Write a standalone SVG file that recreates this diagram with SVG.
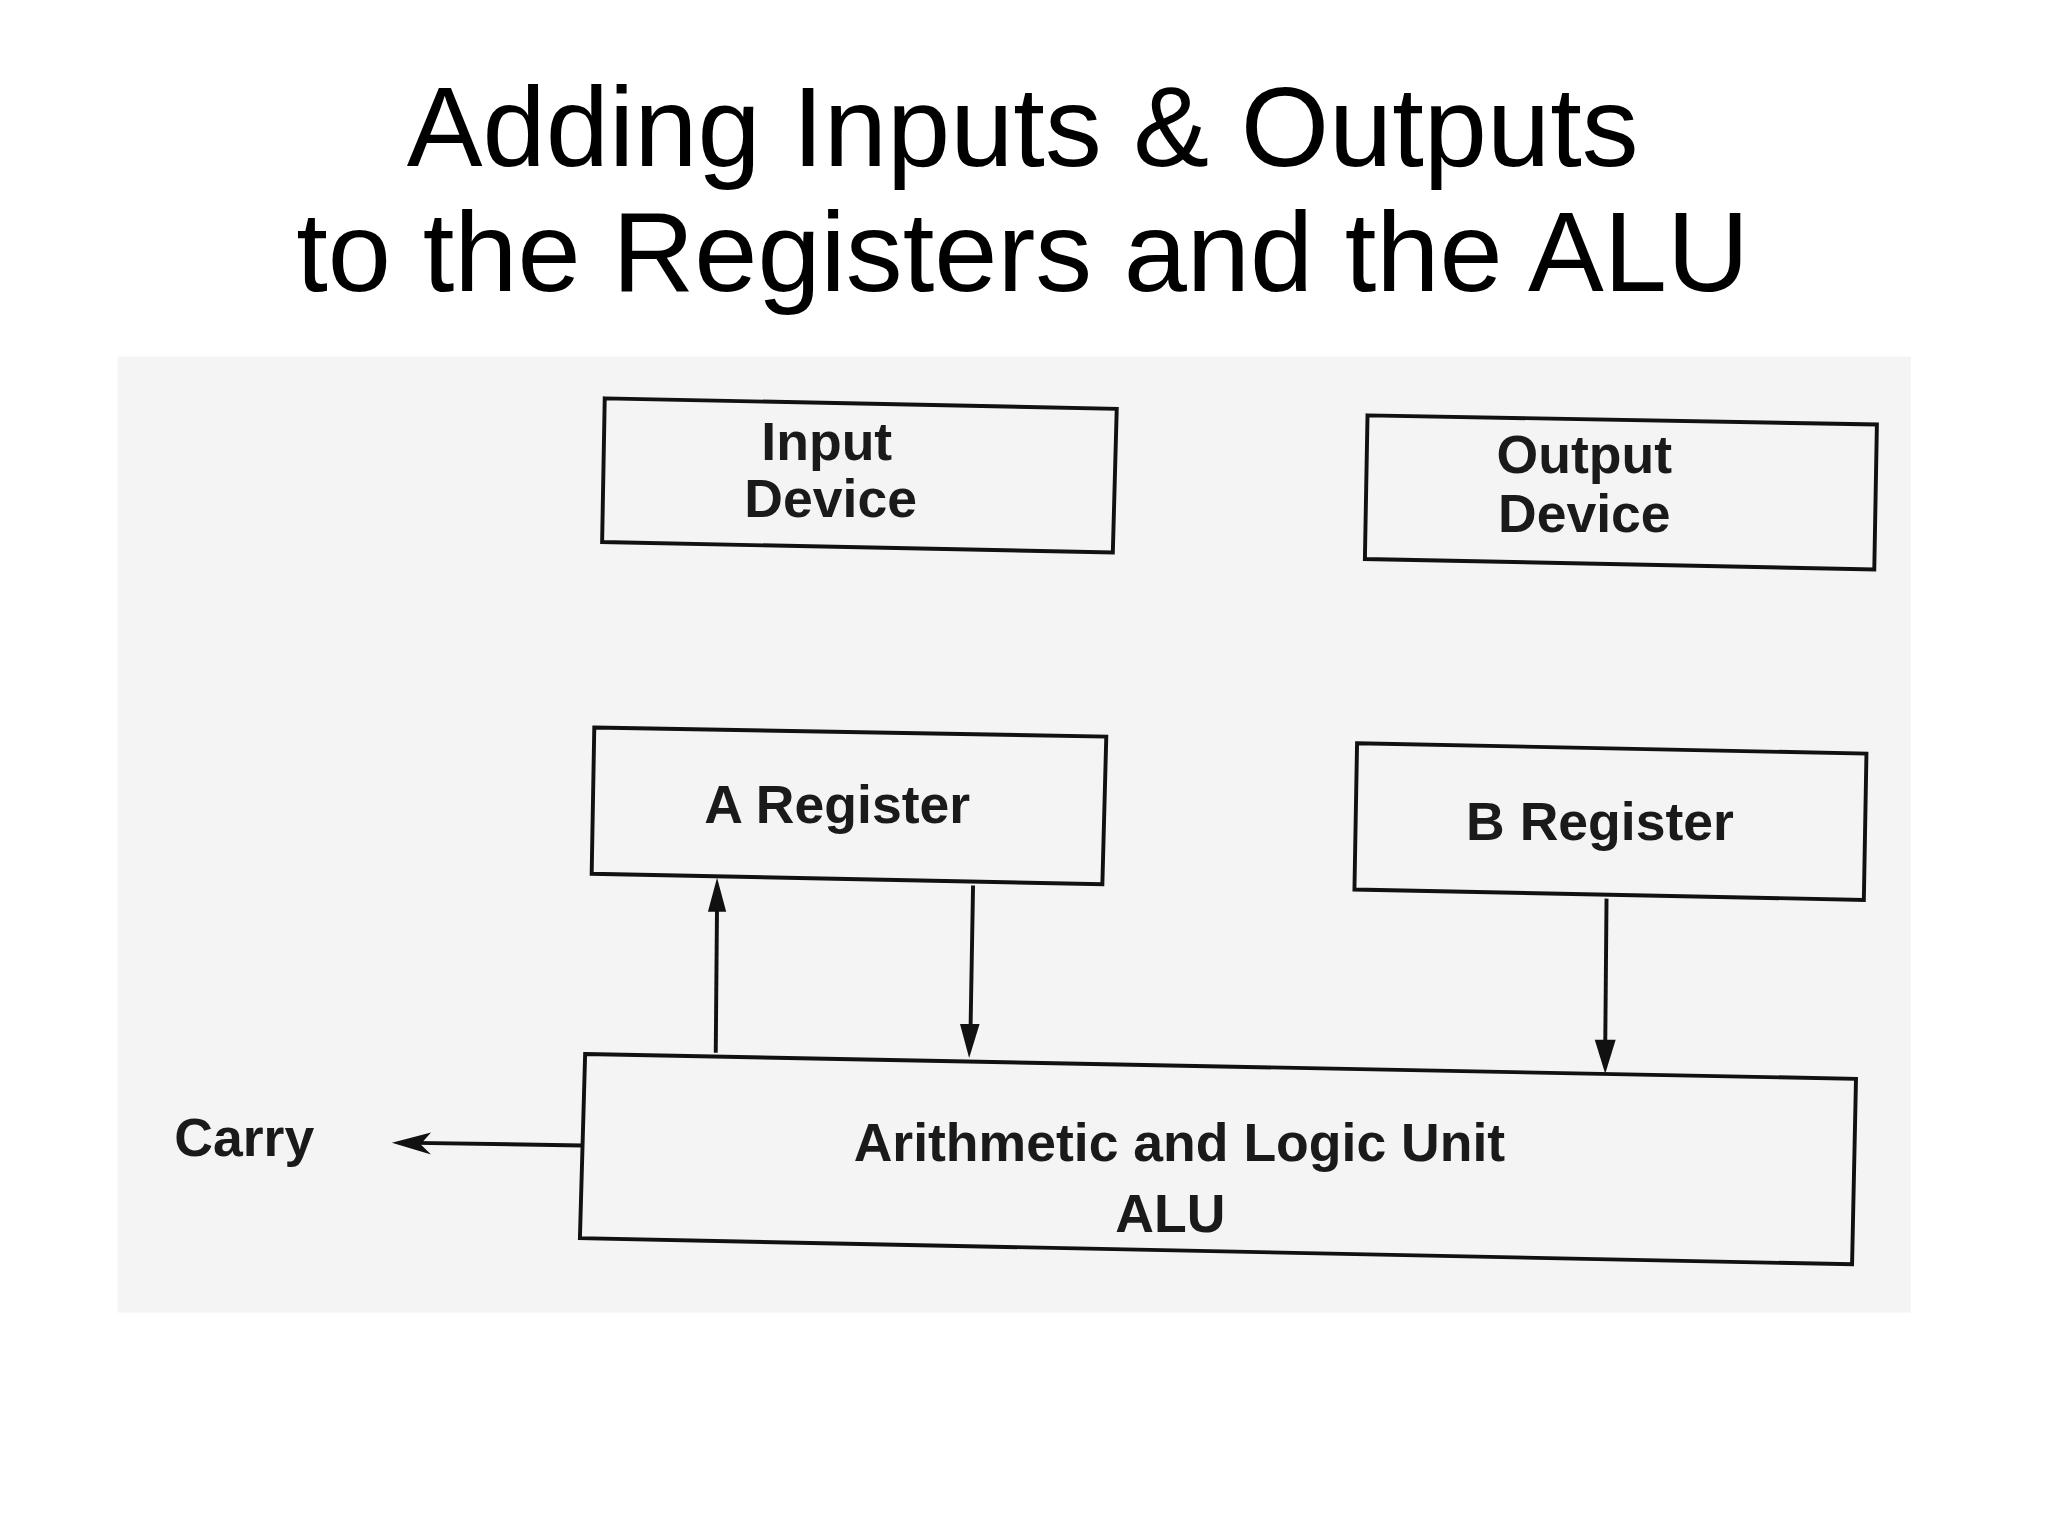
<svg xmlns="http://www.w3.org/2000/svg" width="2048" height="1536" viewBox="0 0 2048 1536">
<defs>
<style>
.box{fill:none;stroke:#111;stroke-width:3}
.t{font-family:"Liberation Sans",Arial,sans-serif;font-size:41px;font-weight:bold;fill:#1a1a1a;text-anchor:middle}
.title{font-family:"Liberation Sans",Arial,sans-serif;font-size:87px;fill:#000;text-anchor:middle}
.c{stroke:#111;stroke-width:3;fill:none}
.h{fill:#111}
</style>
</defs>
<rect width="2048" height="1536" fill="#fff"/>
<g transform="scale(1.30612)">
<rect x="90" y="273" width="1373" height="732" fill="#f4f4f4"/>
<text class="title" x="783" y="127">Adding Inputs &amp; Outputs</text>
<text class="title" x="783" y="223">to the Registers and the ALU</text>
<g id="input">
<polygon class="box" points="463,305 855,313 852,423 461,415"/>
<text class="t" x="633" y="352">Input</text>
<text class="t" x="636" y="396">Device</text>
</g>
<g id="output">
<polygon class="box" points="1047,318 1437,325 1435,436 1045,428"/>
<text class="t" x="1213" y="362">Output</text>
<text class="t" x="1213" y="407">Device</text>
</g>
<g id="areg">
<polygon class="box" points="455,557 847,564 844,677 453,669"/>
<text class="t" x="641" y="630">A Register</text>
</g>
<g id="breg">
<polygon class="box" points="1039,569 1429,577 1427,689 1037,681"/>
<text class="t" x="1225" y="643">B Register</text>
</g>
<g id="alu">
<polygon class="box" points="448,807 1421,826 1418,968 444,948"/>
<text class="t" x="903" y="889">Arithmetic and Logic Unit</text>
<text class="t" x="896" y="943">ALU</text>
</g>
<g id="carry">
<text class="t" x="187" y="885">Carry</text>
</g>
<g id="connectors">
<path class="c" d="M548,806 L549,690"/>
<polygon class="h" points="549,672 556,698 542,698"/>
<path class="c" d="M745,678 L743,792"/>
<polygon class="h" points="742,810 735,784 750,784"/>
<path class="c" d="M1230,688 L1229,802"/>
<polygon class="h" points="1229,822 1221,796 1237,796"/>
<path class="c" d="M446,877 L318,875"/>
<polygon class="h" points="300,875 330,867 322,876 330,884"/>
</g>
</g>
</svg>
